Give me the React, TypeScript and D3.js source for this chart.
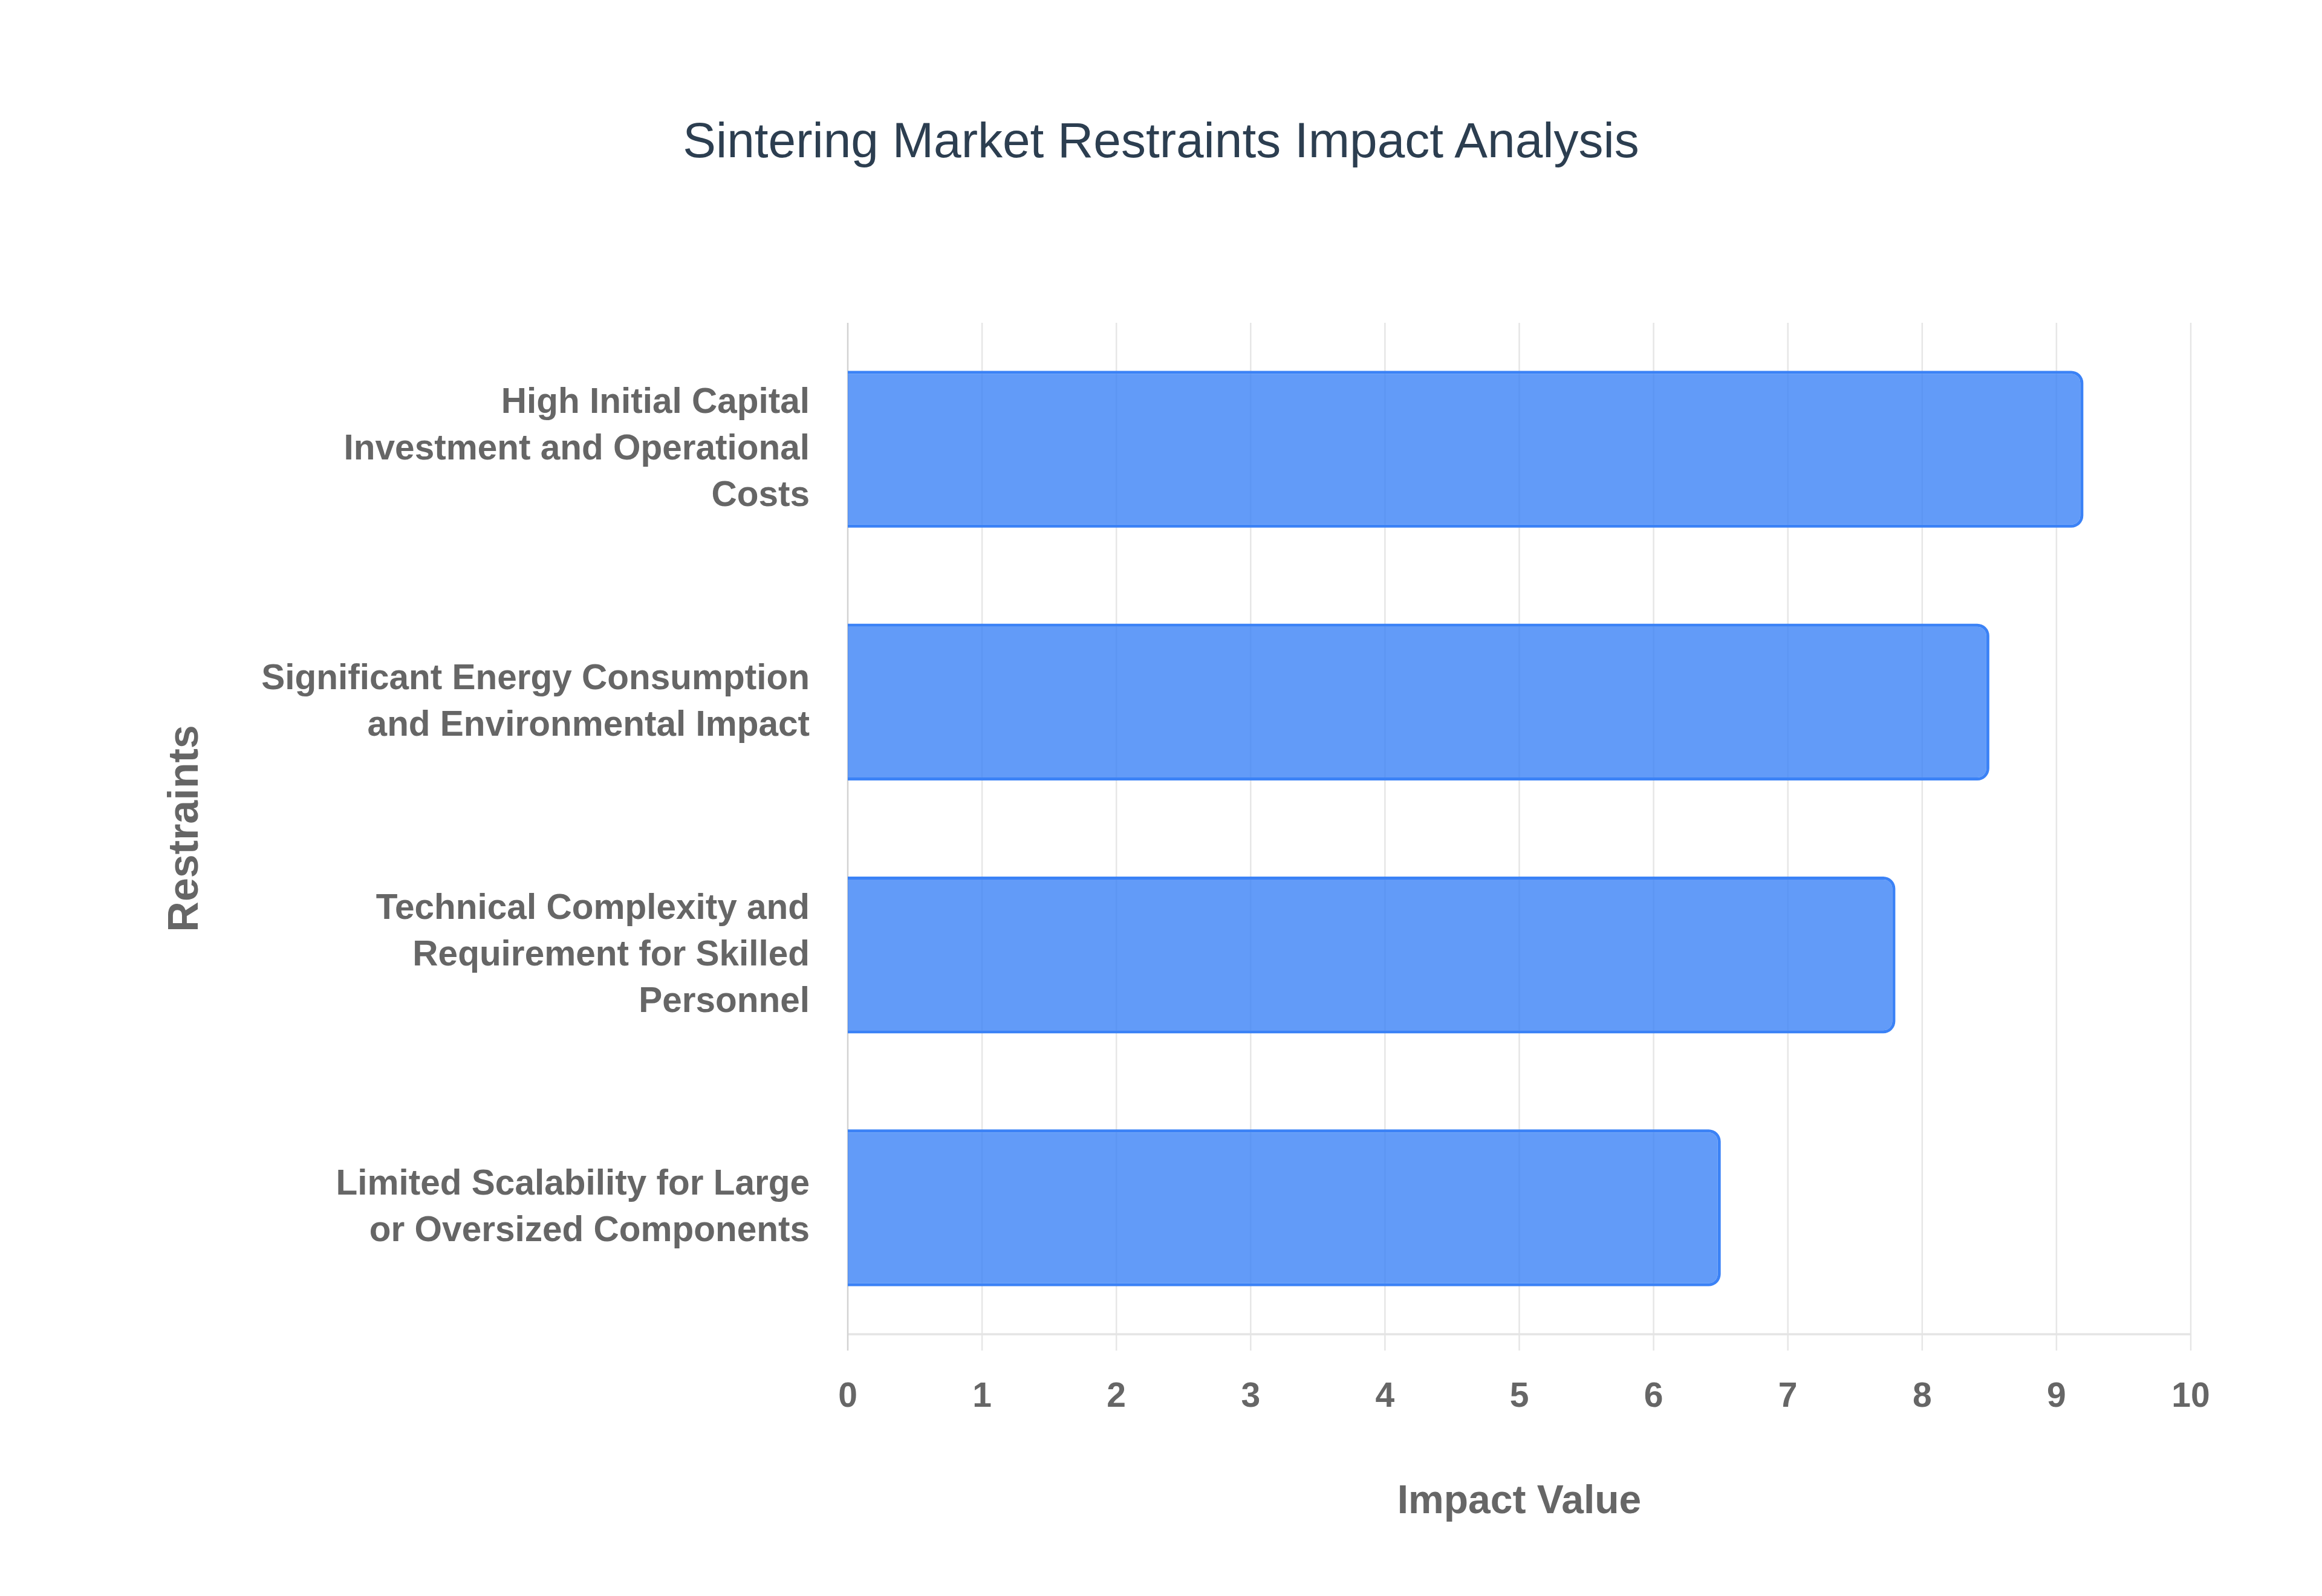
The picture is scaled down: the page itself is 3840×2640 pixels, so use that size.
import React, { useEffect, useRef } from 'react';
import * as d3 from 'd3';

// restraint categories (top to bottom) and their impact values
const restraints = [
  'High Initial Capital Investment and Operational Costs',
  'Significant Energy Consumption and Environmental Impact',
  'Technical Complexity and Requirement for Skilled Personnel',
  'Limited Scalability for Large or Oversized Components',
];
const restraintLines = [
  ['High Initial Capital', 'Investment and Operational', 'Costs'],
  ['Significant Energy Consumption', 'and Environmental Impact'],
  ['Technical Complexity and', 'Requirement for Skilled', 'Personnel'],
  ['Limited Scalability for Large', 'or Oversized Components'],
];
const impactValues = [9.2, 8.5, 7.8, 6.5];
const xTicks = [0, 1, 2, 3, 4, 5, 6, 7, 8, 9, 10];

const title = 'Sintering Market Restraints Impact Analysis';
const xTitle = 'Impact Value';
const yTitle = 'Restraints';

const FONT = '"Liberation Sans", Arial, Helvetica, sans-serif';

// rect with rounded right corners only (start side left square)
function barPath(x0: number, x1: number, y0: number, y1: number, r: number) {
  const rr = Math.max(0, Math.min(r, (x1 - x0) / 2, (y1 - y0) / 2));
  const p = d3.path();
  p.moveTo(x0, y0);
  p.lineTo(x1 - rr, y0);
  p.arcTo(x1, y0, x1, y0 + rr, rr);
  p.lineTo(x1, y1 - rr);
  p.arcTo(x1, y1, x1 - rr, y1, rr);
  p.lineTo(x0, y1);
  p.closePath();
  return p.toString();
}

const App: React.FC = () => {
  const svgRef = useRef<SVGSVGElement>(null);

  useEffect(() => {
    if (!svgRef.current) return;
    const svg = d3.select(svgRef.current);
    svg.selectAll('*').remove();

    const width = 3840;
    const height = 2640;
    const margin = { top: 534, right: 217, bottom: 433, left: 1402 };
    const innerWidth = width - margin.left - margin.right;
    const innerHeight = height - margin.top - margin.bottom;

    svg.append('rect').attr('width', width).attr('height', height).attr('fill', '#ffffff');

    const g = svg.append('g').attr('transform', `translate(${margin.left},${margin.top})`);

    const x = d3.scaleLinear().domain([0, 10]).range([0, innerWidth]);
    const y = d3
      .scaleBand()
      .domain(restraints)
      .range([0, innerHeight])
      .paddingInner(0.38)
      .paddingOuter(0.19);

    // vertical grid lines (extend below axis as ticks)
    g.append('g')
      .selectAll('line')
      .data(xTicks.slice(1))
      .join('line')
      .attr('x1', d => x(d))
      .attr('x2', d => x(d))
      .attr('y1', 0)
      .attr('y2', innerHeight + 27)
      .attr('stroke', '#e6e6e6')
      .attr('stroke-width', 2.5);

    // bottom axis border
    g.append('line')
      .attr('x1', 0)
      .attr('x2', innerWidth)
      .attr('y1', innerHeight)
      .attr('y2', innerHeight)
      .attr('stroke', '#e4e4e4')
      .attr('stroke-width', 3.5);

    // left axis border
    g.append('line')
      .attr('x1', x(0))
      .attr('x2', x(0))
      .attr('y1', 0)
      .attr('y2', innerHeight + 27)
      .attr('stroke', '#d2d2d2')
      .attr('stroke-width', 2.5);

    // bars
    const bw = 5;
    const rad = 20;
    const bars = g.append('g');
    restraints.forEach((cat, i) => {
      const y0 = y(cat) || 0;
      const y1 = y0 + y.bandwidth();
      const x0 = x(0);
      const x1 = x(impactValues[i]);
      bars
        .append('path')
        .attr('d', barPath(x0, x1, y0, y1, rad) + barPath(x0, x1 - bw, y0 + bw, y1 - bw, rad - bw))
        .attr('fill', '#3b82f6')
        .attr('fill-rule', 'evenodd');
      bars
        .append('path')
        .attr('d', barPath(x0, x1 - bw, y0 + bw, y1 - bw, rad - bw))
        .attr('fill', 'rgba(59,130,246,0.8)');
    });

    // x tick labels
    g.append('g')
      .selectAll('text')
      .data(xTicks)
      .join('text')
      .attr('x', d => x(d))
      .attr('y', innerHeight + 120)
      .attr('text-anchor', 'middle')
      .attr('font-family', FONT)
      .attr('font-weight', 'bold')
      .attr('font-size', 57)
      .attr('fill', '#666666')
      .text(d => String(d));

    // y category labels
    const lineH = 77;
    const labels = g.append('g');
    restraints.forEach((cat, i) => {
      const lines = restraintLines[i];
      const cy = (y(cat) || 0) + y.bandwidth() / 2;
      const t = labels
        .append('text')
        .attr('text-anchor', 'end')
        .attr('font-family', FONT)
        .attr('font-weight', 'bold')
        .attr('font-size', 58.5)
        .attr('fill', '#666666');
      lines.forEach((ln, j) => {
        t.append('tspan')
          .attr('x', -63)
          .attr('y', cy + (j - (lines.length - 1) / 2) * lineH + 17)
          .text(ln);
      });
    });

    // axis titles
    svg
      .append('text')
      .attr('x', margin.left + innerWidth / 2)
      .attr('y', 2503)
      .attr('text-anchor', 'middle')
      .attr('font-family', FONT)
      .attr('font-weight', 'bold')
      .attr('font-size', 66)
      .attr('fill', '#666666')
      .text(xTitle);

    svg
      .append('text')
      .attr('transform', `translate(327,${margin.top + innerHeight / 2}) rotate(-90)`)
      .attr('text-anchor', 'middle')
      .attr('font-family', FONT)
      .attr('font-weight', 'bold')
      .attr('font-size', 70)
      .attr('fill', '#666666')
      .text(yTitle);

    // chart title
    svg
      .append('text')
      .attr('x', width / 2)
      .attr('y', 260)
      .attr('text-anchor', 'middle')
      .attr('font-family', FONT)
      .attr('font-size', 82)
      .attr('fill', '#2c3e50')
      .text(title);
  }, []);

  return (
    <svg
      ref={svgRef}
      width={3840}
      height={2640}
      style={{ position: 'absolute', top: 0, left: 0, display: 'block' }}
    />
  );
};

export default App;
